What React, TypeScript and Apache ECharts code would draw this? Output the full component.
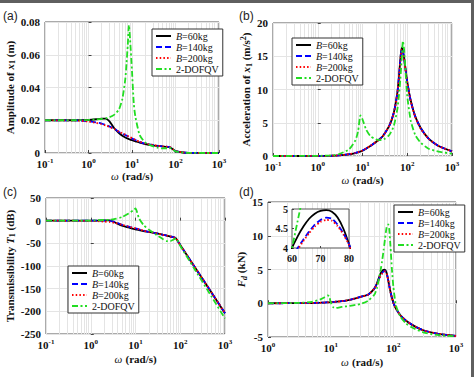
import React, { useEffect, useRef } from 'react';
import * as echarts from 'echarts';

const SERIF = '"Liberation Serif", "Times New Roman", serif';
const seriesNames = ['B=60kg', 'B=140kg', 'B=200kg', '2-DOFQV'];

// Panel (a): amplitude of x1 (m)
const wA = [0.1, 0.5, 1, 1.5, 2, 2.5, 3, 3.5, 4, 5, 6, 7, 7.5, 8, 8.5, 9, 10, 11, 12, 15, 20, 30, 40, 50, 60, 70, 80, 90, 100, 150, 200, 500, 1000];
const a60 = [0.02, 0.02, 0.0202, 0.0206, 0.021, 0.021, 0.0195, 0.017, 0.0148, 0.0122, 0.0105, 0.0095, 0.0091, 0.0088, 0.0085, 0.0082, 0.0078, 0.0074, 0.0071, 0.0063, 0.0055, 0.0047, 0.0043, 0.004, 0.0038, 0.0036, 0.003, 0.002, 0.0012, 0.0003, 0.0001, 0, 0];
const a140 = [0.02, 0.0199, 0.0194, 0.0187, 0.018, 0.0172, 0.0163, 0.0155, 0.0148, 0.0128, 0.0118, 0.011, 0.0106, 0.0102, 0.0098, 0.0095, 0.0088, 0.0083, 0.0079, 0.0068, 0.0057, 0.0049, 0.0044, 0.0041, 0.0039, 0.0037, 0.0031, 0.002, 0.0012, 0.0003, 0.0001, 0, 0];
const a200 = [0.02, 0.0198, 0.0192, 0.0184, 0.0176, 0.0168, 0.016, 0.0152, 0.0146, 0.0131, 0.012, 0.0112, 0.0108, 0.0104, 0.01, 0.0097, 0.009, 0.0085, 0.008, 0.0069, 0.0058, 0.0049, 0.0044, 0.0041, 0.0039, 0.0037, 0.0031, 0.002, 0.0012, 0.0003, 0.0001, 0, 0];
const aQV = [0.02, 0.02, 0.0202, 0.0205, 0.0208, 0.0212, 0.0218, 0.0226, 0.0236, 0.0265, 0.033, 0.045, 0.055, 0.066, 0.078, 0.07, 0.05, 0.03, 0.022, 0.011, 0.0065, 0.0042, 0.0032, 0.0028, 0.0029, 0.0032, 0.0028, 0.0018, 0.001, 0.0002, 0.0001, 0, 0];

// Panel (b): acceleration of x1 (m/s^2)
const wB = [0.1, 1, 2, 3, 5, 7, 8, 9, 10, 12, 15, 20, 25, 30, 40, 50, 60, 65, 70, 75, 80, 85, 90, 100, 120, 150, 200, 300, 500, 1000];
const b60 = [0, 0.01, 0.04, 0.09, 0.25, 0.45, 0.55, 0.68, 0.8, 1.1, 1.5, 2.1, 2.6, 3.2, 4.6, 6.5, 9.5, 11.8, 14.5, 16.3, 15.8, 14.8, 13.5, 11.2, 8.3, 6.0, 4.2, 2.6, 1.5, 0.7];
const b140 = [0, 0.01, 0.04, 0.1, 0.27, 0.47, 0.57, 0.7, 0.82, 1.12, 1.52, 2.12, 2.62, 3.2, 4.6, 6.5, 9.4, 11.7, 14.4, 16.1, 15.7, 14.7, 13.4, 11.1, 8.2, 6.0, 4.2, 2.6, 1.5, 0.7];
const b200 = [0, 0.01, 0.04, 0.1, 0.28, 0.48, 0.58, 0.7, 0.83, 1.13, 1.53, 2.13, 2.63, 3.2, 4.6, 6.4, 9.3, 11.6, 14.3, 16.0, 15.6, 14.6, 13.3, 11.0, 8.2, 5.9, 4.1, 2.6, 1.5, 0.7];
const bQV = [0, 0.02, 0.1, 0.3, 1.0, 2.4, 3.8, 6.1, 5.5, 4.0, 3.0, 2.5, 2.4, 2.5, 3.2, 4.5, 7.0, 9.0, 11.5, 14.5, 17.3, 16.0, 13.5, 9.0, 5.3, 3.2, 2.0, 1.1, 0.65, 0.35];

// Panel (c): transmissibility T1 (dB)
const wC = [0.1, 1, 2, 2.7, 3.5, 5, 7, 9, 10, 12, 15, 20, 30, 40, 50, 60, 70, 80, 100, 200, 500, 1000];
const c60 = [0, 0, 0.5, 0.5, -4, -11, -15, -18, -19, -21, -23, -25, -28, -31, -33, -35, -36.5, -39, -53.6, -98.9, -158.7, -204];
const c140 = [0, 0, 0, -0.5, -3, -9, -13, -16, -17, -19, -22, -25, -28, -31, -33, -35, -36.5, -39, -53.6, -98.9, -158.7, -204];
const c200 = [0, -0.5, -2, -3, -5, -9, -13, -16, -17, -19, -22, -25, -28, -31, -33, -35, -36.5, -39, -53.6, -98.9, -158.7, -204];
const cQV = [0, 0.3, 1.5, 2, 4, 8, 16, 23, 27, 5, -9, -20, -32, -40, -45, -45, -42, -39, -55.5, -103.7, -167.4, -216];

// Panel (d): Fd (kN)
const wD = [1, 3, 5, 7, 8, 9, 9.5, 10, 11, 12, 15, 20, 30, 40, 50, 55, 60, 62, 64, 66, 68, 70, 72, 74, 76, 78, 80, 83, 86, 90, 95, 100, 110, 130, 160, 200, 300, 500, 1000];
const d60 = [0, 0.01, 0.04, 0.08, 0.1, 0.13, 0.14, 0.16, 0.19, 0.22, 0.3, 0.5, 0.95, 1.3, 2.2, 3.0, 4.0, 4.3, 4.55, 4.75, 4.88, 4.95, 4.97, 4.93, 4.78, 4.5, 4.1, 3.4, 2.6, 1.7, 0.8, 0.1, -0.8, -1.8, -2.6, -3.2, -4.0, -4.5, -4.85];
const d140 = [0, 0.01, 0.04, 0.08, 0.1, 0.13, 0.14, 0.16, 0.19, 0.22, 0.3, 0.5, 0.95, 1.3, 2.2, 2.9, 3.75, 4.0, 4.22, 4.42, 4.6, 4.72, 4.78, 4.75, 4.6, 4.38, 4.1, 3.4, 2.6, 1.7, 0.8, 0.1, -0.8, -1.8, -2.6, -3.2, -4.0, -4.5, -4.85];
const d200 = [0, 0.01, 0.04, 0.08, 0.1, 0.13, 0.14, 0.16, 0.19, 0.22, 0.3, 0.5, 0.95, 1.3, 2.2, 2.9, 3.72, 3.96, 4.18, 4.38, 4.55, 4.67, 4.72, 4.7, 4.56, 4.35, 4.08, 3.4, 2.6, 1.7, 0.8, 0.1, -0.8, -1.8, -2.6, -3.2, -4.0, -4.5, -4.85];
const dQV = [0, 0.05, 0.2, 0.6, 0.9, 1.15, 1.0, 0.2, -0.6, -0.7, -0.55, -0.4, -0.1, 0.4, 1.3, 2.3, 4.0, 4.7, 5.4, 6.2, 7.0, 7.9, 8.8, 9.7, 10.5, 11.2, 11.5, 11.7, 11.0, 8.5, 5.0, 2.5, -0.3, -2.0, -3.0, -3.6, -4.3, -4.7, -4.9];

const panelLabels = ['(a)', '(b)', '(c)', '(d)'];

const COLORS = ['#000000', '#0000ff', '#ff0000', '#22dd22'];
const DASH: any[] = ['solid', [6, 3], [1.5, 2.2], [6, 2.5, 2, 2.5]];

const nameRich = {
  b: { fontFamily: SERIF, fontWeight: 'bold', fontSize: 11, lineHeight: 14, color: '#111' },
  i: { fontFamily: SERIF, fontWeight: 'bold', fontStyle: 'italic', fontSize: 11, lineHeight: 14, color: '#111' },
  w: { fontFamily: SERIF, fontStyle: 'italic', fontSize: 11, lineHeight: 14, color: '#111' },
  sub: { fontFamily: SERIF, fontWeight: 'bold', fontSize: 8, lineHeight: 8, verticalAlign: 'bottom', color: '#111' },
  isub: { fontFamily: SERIF, fontWeight: 'bold', fontStyle: 'italic', fontSize: 8, lineHeight: 8, verticalAlign: 'bottom', color: '#111' },
  sup: { fontFamily: SERIF, fontWeight: 'bold', fontSize: 8, lineHeight: 8, verticalAlign: 'top', color: '#111' },
};

const tickRich = {
  b: { fontFamily: SERIF, fontWeight: 'bold', fontSize: 11, lineHeight: 14, color: '#111' },
  s: { fontFamily: SERIF, fontWeight: 'bold', fontSize: 7, lineHeight: 7, verticalAlign: 'top', color: '#111' },
};

const grids = [
  { left: 45, top: 22, width: 174, height: 131 },
  { left: 273, top: 23, width: 179, height: 133 },
  { left: 46, top: 198, width: 179, height: 136 },
  { left: 268, top: 202, width: 188, height: 135 },
];
const inset = { left: 292, top: 209, width: 57, height: 39 };

function minorLines(min: number, max: number) {
  const out: number[] = [];
  for (let d = min; d < max; d++) {
    for (let k = 2; k <= 9; k++) out.push(d + Math.log10(k));
  }
  return out;
}

function xLogAxis(g: number, min: number, max: number, nameGap: number) {
  return {
    type: 'value', gridIndex: g, min, max, interval: 1,
    axisLine: { show: false },
    axisTick: { inside: true, length: 3, lineStyle: { color: '#444' } },
    splitLine: { show: true, lineStyle: { color: '#e4e4e4', width: 1 } },
    axisLabel: { formatter: (v: number) => `{b|10}{s|${v}}`, rich: tickRich, margin: 4 },
    name: '{w|ω} {b|(rad/s)}', nameLocation: 'middle', nameGap,
    nameTextStyle: { rich: nameRich },
  };
}

function yAxis(g: number, min: number, max: number, interval: number, name: string, nameGap: number) {
  return {
    type: 'value', gridIndex: g, min, max, interval,
    axisLine: { show: false },
    axisTick: { inside: true, length: 3, lineStyle: { color: '#444' } },
    splitLine: { show: true, lineStyle: { color: '#e4e4e4', width: 1 } },
    axisLabel: { fontFamily: SERIF, fontWeight: 'bold', fontSize: 11, color: '#111', margin: 5 },
    name, nameLocation: 'middle', nameGap, nameRotate: 90,
    nameTextStyle: { rich: nameRich },
  };
}

function lineSeries(name: string, k: number, w: number[], v: number[], axis: number, logX: boolean, z: number) {
  return {
    type: 'line', name, xAxisIndex: axis, yAxisIndex: axis,
    data: w.map((x, i) => [logX ? Math.log10(x) : x, v[i]]),
    symbol: 'none', smooth: 0.2, z,
    lineStyle: { color: COLORS[k], width: 1.8, type: DASH[k] },
    itemStyle: { color: COLORS[k] },
  };
}

function minorSeries(g: number, min: number, max: number) {
  return {
    type: 'line', name: 'minor' + g, xAxisIndex: g, yAxisIndex: g, data: [], silent: true, z: 1,
    markLine: {
      silent: true, symbol: ['none', 'none'], z: 1, animation: false,
      label: { show: false },
      lineStyle: { color: '#e4e4e4', type: 'solid', width: 1 },
      emphasis: { disabled: true },
      data: minorLines(min, max).map((x) => ({ xAxis: x })),
    },
  };
}

function legend(left: number, top: number) {
  return {
    orient: 'vertical', left, top, itemWidth: 15, itemHeight: 8, itemGap: 1,
    padding: [2, 4, 2, 3], borderColor: '#333', borderWidth: 1, backgroundColor: '#fff',
    data: seriesNames,
    itemStyle: { color: 'transparent', borderColor: 'transparent', borderWidth: 0, opacity: 0 },
    formatter: (n: string) => (n.startsWith('B') ? `{i|B}{n|${n.slice(1)}}` : `{n|${n}}`),
    textStyle: {
      fontFamily: SERIF, fontSize: 10, lineHeight: 9,
      rich: {
        i: { fontFamily: SERIF, fontStyle: 'italic', fontSize: 10, lineHeight: 9, color: '#111' },
        n: { fontFamily: SERIF, fontSize: 10, lineHeight: 9, color: '#111' },
      },
    },
  };
}

export default function App() {
  const ref = useRef<HTMLDivElement>(null);
  useEffect(() => {
    if (!ref.current) return;
    const chart = echarts.init(ref.current, undefined, { renderer: 'svg' });
    const data = [
      { w: wA, v: [a60, a140, a200, aQV] },
      { w: wB, v: [b60, b140, b200, bQV] },
      { w: wC, v: [c60, c140, c200, cQV] },
      { w: wD, v: [d60, d140, d200, dQV] },
    ];
    const xr = [[-1, 3], [-1, 3], [-1, 3], [0, 3]];
    const series: any[] = [];
    data.forEach((p, g) => {
      series.push(minorSeries(g, xr[g][0], xr[g][1]));
      p.v.forEach((vals, k) => series.push(lineSeries(seriesNames[k], k, p.w, vals, g, true, 2 + k * 0.1)));
    });
    [d60, d140, d200, dQV].forEach((vals, k) => series.push(lineSeries(seriesNames[k], k, wD, vals, 4, false, 8 + k * 0.1)));

    const option: any = {
      animation: false,
      backgroundColor: '#fff',
      grid: [
        ...grids.map((gr) => ({ ...gr, show: true, borderColor: '#555', borderWidth: 1, backgroundColor: 'transparent', containLabel: false })),
        { ...inset, show: true, borderColor: '#555', borderWidth: 1, backgroundColor: '#fff', z: 6 },
      ],
      xAxis: [
        xLogAxis(0, -1, 3, 15),
        xLogAxis(1, -1, 3, 17),
        xLogAxis(2, -1, 3, 18),
        xLogAxis(3, 0, 3, 18),
        {
          type: 'value', gridIndex: 4, min: 60, max: 80, interval: 10, z: 7,
          axisLine: { show: false }, splitLine: { show: false },
          axisTick: { inside: true, length: 2, lineStyle: { color: '#444' } },
          axisLabel: { fontFamily: SERIF, fontWeight: 'bold', fontSize: 10, color: '#111', margin: 5 },
        },
      ],
      yAxis: [
        yAxis(0, 0, 0.08, 0.02, '{b|Amplitude of }{i|x}{sub|1}{b| (m)}', 20),
        yAxis(1, 0, 20, 5, '{b|Acceleration of }{i|x}{sub|1}{b| (m/s}{sup|2}{b|)}', 12),
        yAxis(2, -250, 50, 50, '{b|Transmissibility }{i|T}{sub|1}{b| (dB)}', 22),
        yAxis(3, -5, 15, 5, '{i|F}{isub|d}{b| (kN)}', 11),
        {
          type: 'value', gridIndex: 4, min: 4, max: 5, interval: 0.5, z: 7,
          axisLine: { show: false }, splitLine: { show: false },
          axisTick: { inside: true, length: 2, lineStyle: { color: '#444' } },
          axisLabel: { fontFamily: SERIF, fontWeight: 'bold', fontSize: 10, color: '#111', margin: 4 },
        },
      ],
      legend: [legend(152, 29), legend(292, 38), legend(68, 266), legend(394, 205)],
      graphic: [
        { type: 'rect', shape: { x: 0, y: 0, width: 474, height: 3 }, style: { fill: '#5f5f5f' }, z: 20 },
        { type: 'rect', shape: { x: 471, y: 0, width: 3, height: 377 }, style: { fill: '#5f5f5f' }, z: 20 },
        ...panelLabels.map((t, i) => ({
          type: 'text', x: i % 2 === 0 ? 3 : 239, y: i < 2 ? 10 : 186,
          style: { text: t, font: '12px "Liberation Sans", Arial, sans-serif', fill: '#222' }, z: 20,
        })),
      ],
      series,
    };
    chart.setOption(option);
    return () => chart.dispose();
  }, []);
  return <div ref={ref} style={{ position: 'fixed', left: 0, top: 0, width: 474, height: 377, background: '#fff' }} />;
}
